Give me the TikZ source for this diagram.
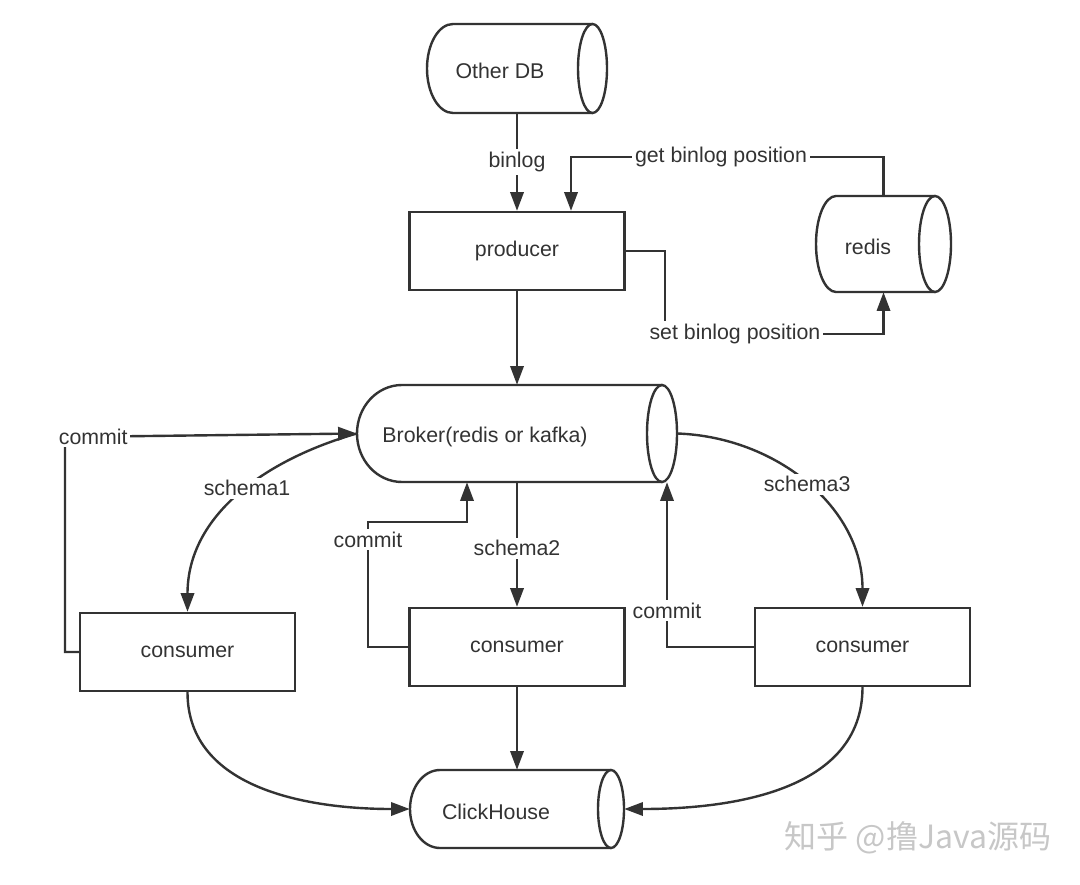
\documentclass[tikz,border=0pt]{standalone}
\usepackage{fontspec}
\setmainfont{Liberation Sans}
\newfontfamily\cjk{Noto Sans CJK SC}
\usetikzlibrary{arrows.meta}
\definecolor{ink}{HTML}{333333}
\newcommand\mycyl[7]{%
  \node[inner sep=0pt, minimum width={(#4-#2)*0.75pt}, minimum height={(#5-#3)*0.75pt}] (#1) at ({(#2+#4)/2},{(#3+#5)/2}) {};
  \draw[line] ({#4-#7},#3) -- ({#2+#6},#3) arc[start angle=270, end angle=90, x radius=#6, y radius={(#5-#3)/2}] -- ({#4-#7},#5);
  \draw[line] ({#4-#7},{(#3+#5)/2}) ellipse[x radius=#7, y radius={(#5-#3)/2}];
}
\begin{document}
\begin{tikzpicture}[x=0.75pt,y=-0.75pt,
  line/.style={draw=ink, line width=1.8pt},
  arr/.style={line, -{Triangle[length=14pt,width=10pt]}},
  txt/.style={text=ink, font=\fontsize{16}{19}\selectfont},
  box/.style={line, txt, minimum width=161.25pt, minimum height=58.5pt, inner sep=0pt},
  lbl/.style={txt, fill=white, inner sep=2pt}]
\useasboundingbox (0,0) rectangle (1080,884);
\fill[white] (0,0) rectangle (1080,884);

% cylinders
\mycyl{odb}{427}{24}{607}{113}{26}{14.5}
\node[txt] (odbt) at (500,71) {Other DB};
\mycyl{redis}{816}{196}{951}{292}{20}{16}
\node[txt] (redist) at (868,247) {redis};
\mycyl{broker}{357}{385}{677}{482}{45}{15}
\node[txt] (brokert) at (485,437) {Broker(redis or kafka)};
\mycyl{ch}{410}{770}{624}{848}{30}{13}
\node[txt] (cht) at (496,812) {ClickHouse};

% boxes
\node[box] (producer) at (517,251) {producer};
\node[box] (con1) at (187.5,652) {consumer};
\node[box] (con2) at (517,647) {consumer};
\node[box] (con3) at (862.5,647) {consumer};

% helper coordinates
\coordinate (g1) at (571,157);
\coordinate (s1) at (665,334);
\coordinate (c1) at (65,437);
\coordinate (c2) at (368,522);

% connectors
\draw[arr] (odb.south) -- node[lbl, pos=0.5] {binlog} (producer.north);
\draw[arr] (redis.north) |- node[lbl, pos=0.76] {get binlog position} (g1) -- (g1 |- producer.north);
\draw[arr] (producer.east) -| (s1) -| node[lbl, pos=0.16] {set binlog position} (redis.south);
\draw[arr] (producer.south) -- (broker.north);

\draw[arr] (con1.west) -| (c1) -- node[lbl, pos=0.097] {commit} (broker.west);
\draw[arr] (broker.west) to[out=196, in=90] node[lbl, pos=0.45] {schema1} (con1.north);
\draw[arr] (con1.south) to[out=-90, in=180] (ch.west);

\draw[arr] (con2.west) -| node[lbl, pos=0.93] {commit} (c2) -| ([xshift=-37.5pt]broker.south);
\draw[arr] (broker.south) -- node[lbl, pos=0.53] {schema2} (con2.north);
\draw[arr] (con2.south) -- (ch.north);

\draw[arr] (con3.west) -| node[lbl, pos=0.61] {commit} ([xshift=112.5pt]broker.south);
\draw[arr] (broker.east) to[out=-2, in=90] node[lbl, pos=0.5] {schema3} (con3.north);
\draw[arr] (con3.south) to[out=-90, in=0] (ch.east);

% watermark
\node[text=black!22, font=\cjk\fontsize{24}{28}\selectfont] (wm) at (918,838) {知乎 @撸Java源码};
\end{tikzpicture}
\end{document}
